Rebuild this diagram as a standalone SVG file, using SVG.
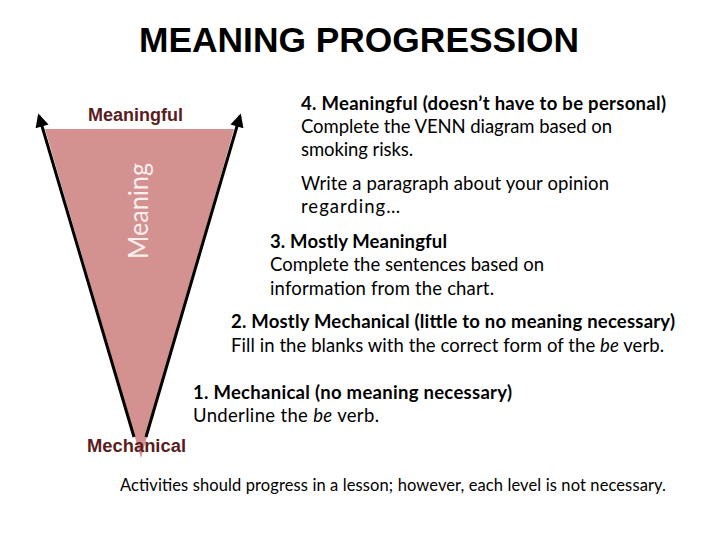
<svg xmlns="http://www.w3.org/2000/svg" width="720" height="540" viewBox="0 0 720 540">
<defs>
<style>
.title{font-family:"Liberation Sans",Arial,sans-serif;font-weight:bold;font-size:35px;fill:#000}
.lab{font-family:"Liberation Sans",Arial,sans-serif;font-weight:bold;font-size:18px;fill:#5a1c1c}
.b{font-family:Lato,"Open Sans",sans-serif;font-size:18.5px;fill:#000}
.h{font-weight:bold}
.i{font-style:italic}
.arrow{stroke:#000;stroke-width:3;fill:none}
</style>
<marker id="ah" viewBox="0 0 10 10" refX="8" refY="5" markerWidth="5" markerHeight="4.5" orient="auto">
<path d="M0,0 L10,5 L0,10 z" fill="#000"/>
</marker>
</defs>
<rect width="720" height="540" fill="#fff"/>
<g id="title"><text class="title" x="139" y="52" textLength="440" lengthAdjust="spacingAndGlyphs">MEANING PROGRESSION</text></g>
<g id="funnel">
<polygon points="45,129 234,129 141,458" fill="#d39190"/>
<text transform="translate(148,259) rotate(-90)" font-family="Lato,'Open Sans',sans-serif" font-size="26" fill="#fbeeee" textLength="96" lengthAdjust="spacingAndGlyphs">Meaning</text>
</g>
<g id="connectors">
<line class="arrow" x1="134" y1="437" x2="39" y2="116" marker-end="url(#ah)"/>
<line class="arrow" x1="146" y1="437" x2="240" y2="116" marker-end="url(#ah)"/>
</g>
<g id="label-meaningful"><text class="lab" x="88" y="121" textLength="95" lengthAdjust="spacingAndGlyphs">Meaningful</text></g>
<g id="label-mechanical"><text class="lab" x="87" y="452" textLength="99" lengthAdjust="spacingAndGlyphs">Mechanical</text></g>
<g id="level4">
<text class="b h" x="301" y="110" textLength="365">4. Meaningful (doesn’t have to be personal)</text>
<text class="b" x="301" y="133" textLength="311">Complete the VENN diagram based on</text>
<text class="b" x="301" y="156" textLength="112">smoking risks.</text>
<text class="b" x="301" y="190" textLength="308">Write a paragraph about your opinion</text>
<text class="b" x="301" y="213" textLength="99">regarding…</text>
</g>
<g id="level3">
<text class="b h" x="270" y="248" textLength="177">3. Mostly Meaningful</text>
<text class="b" x="270" y="271" textLength="274">Complete the sentences based on</text>
<text class="b" x="270" y="295" textLength="224">information from the chart.</text>
</g>
<g id="level2">
<text class="b h" x="231" y="328" textLength="444">2. Mostly Mechanical (little to no meaning necessary)</text>
<text class="b" x="231" y="352" textLength="433">Fill in the blanks with the correct form of the <tspan class="i">be</tspan> verb.</text>
</g>
<g id="level1">
<text class="b h" x="193" y="399" textLength="319">1. Mechanical (no meaning necessary)</text>
<text class="b" x="193" y="422" textLength="186">Underline the <tspan class="i">be</tspan> verb.</text>
</g>
<g id="footer">
<text class="b" style="font-size:16.5px" x="120" y="491" textLength="546">Activities should progress in a lesson; however, each level is not necessary.</text>
</g>
</svg>
